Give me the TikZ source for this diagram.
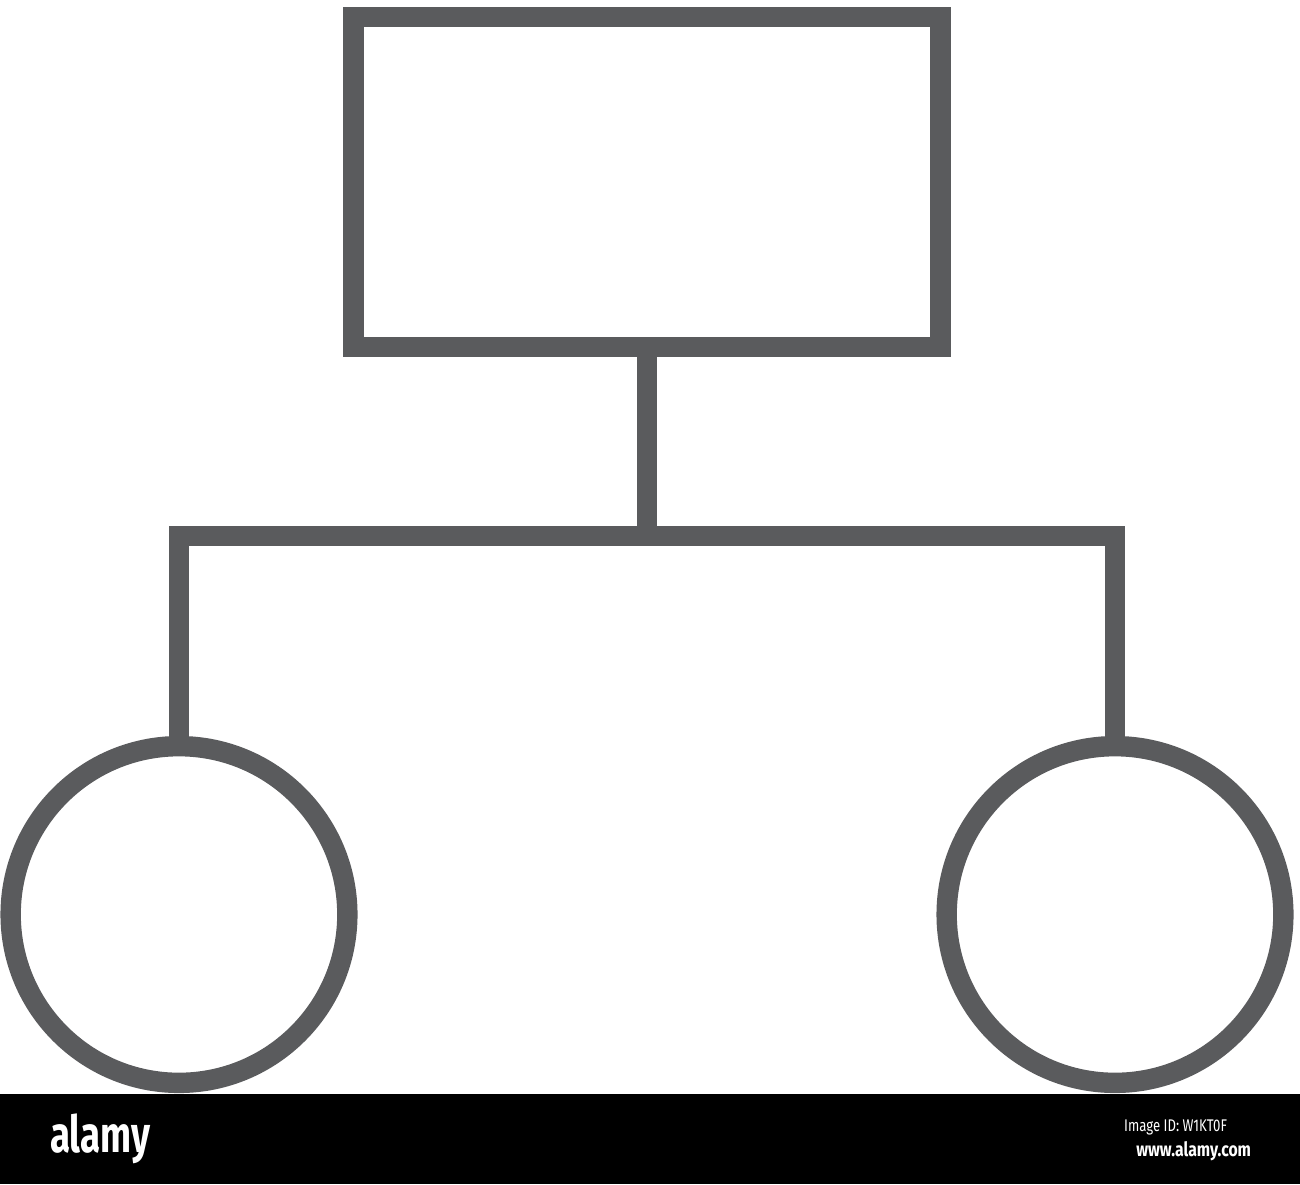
\documentclass[tikz,border=0pt]{standalone}
\usepackage{fontspec}
\setmainfont{Fira Sans}
\usepackage{tikz}

\definecolor{icongrey}{RGB}{90,91,93}

\begin{document}
\begin{tikzpicture}[x=0.01cm,y=-0.01cm]
      \tikzstyle{every node}+=[inner sep=0pt,outer sep=0pt]
      \tikzstyle{wire}=[draw=icongrey,line width=5.8pt,line join=miter]
      \useasboundingbox (0,0) rectangle (1300,1184);
      \node [wire,rectangle,minimum width=5.865cm,minimum height=3.295cm] (root) at (647,182) {};
      \node [wire,circle,minimum size=3.365cm] (leftleaf) at (179,914.5) {};
      \node [wire,circle,minimum size=3.365cm] (rightleaf) at (1115,914.5) {};
      \coordinate (hub) at (647,536);
      \draw [wire] (root.south) -- (hub);
      \draw [wire] (leftleaf.north) |- (hub) -| (rightleaf.north);
      \fill [black] (0,1094) rectangle (1300,1184);
      \node [white,anchor=west] (brand) at (50,1139) {\scalebox{0.72}[1]{\fontsize{14.5pt}{14.5pt}\selectfont\bfseries alamy}};
      \node [white,anchor=east] (imgid) at (1227,1127) {\scalebox{0.78}[1]{\fontsize{4.8pt}{5pt}\selectfont Image ID: W1KT0F}};
      \node [white,anchor=east] (site) at (1251,1151) {\scalebox{0.8}[1]{\fontsize{5.6pt}{6pt}\selectfont\bfseries www.alamy.com}};
\end{tikzpicture}
\end{document}
